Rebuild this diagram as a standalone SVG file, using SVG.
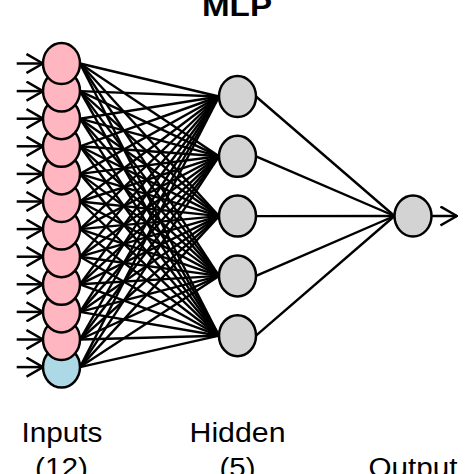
<svg xmlns="http://www.w3.org/2000/svg" width="474" height="474" viewBox="0 0 474 474">
<style>
.c{stroke:#000;stroke-width:2.4;fill:none}
.a{stroke:#000;stroke-width:2.5;fill:none}
.in{fill:#FFB6C1;stroke:#000;stroke-width:2.5}
.bias{fill:#ADD8E6;stroke:#000;stroke-width:2.5}
.hid{fill:#D3D3D3;stroke:#000;stroke-width:2.5}
.lbl{font-family:"Liberation Sans",Arial,sans-serif;font-size:27px;fill:#000;text-anchor:middle}
.ttl{font-family:"Liberation Sans",Arial,sans-serif;font-size:30px;font-weight:bold;fill:#000;text-anchor:middle}
</style>
<defs>
<marker id="arr" markerUnits="userSpaceOnUse" viewBox="0 0 18 21" refX="17" refY="10.5" markerWidth="18" markerHeight="21" orient="auto">
<path d="M0.5,1 L17,10.5 L0.5,20" fill="none" stroke="#000" stroke-width="2.5"/>
</marker>
</defs>
<text class="ttl" x="237" y="16" textLength="70" lengthAdjust="spacingAndGlyphs">MLP</text>
<g id="connectors">
<g id="input-arrows">
<line class="a" x1="16.7" y1="63.5" x2="43" y2="63.5" marker-end="url(#arr)"/>
<line class="a" x1="16.7" y1="91.1" x2="43" y2="91.1" marker-end="url(#arr)"/>
<line class="a" x1="16.7" y1="118.7" x2="43" y2="118.7" marker-end="url(#arr)"/>
<line class="a" x1="16.7" y1="146.3" x2="43" y2="146.3" marker-end="url(#arr)"/>
<line class="a" x1="16.7" y1="173.9" x2="43" y2="173.9" marker-end="url(#arr)"/>
<line class="a" x1="16.7" y1="201.5" x2="43" y2="201.5" marker-end="url(#arr)"/>
<line class="a" x1="16.7" y1="229.1" x2="43" y2="229.1" marker-end="url(#arr)"/>
<line class="a" x1="16.7" y1="256.7" x2="43" y2="256.7" marker-end="url(#arr)"/>
<line class="a" x1="16.7" y1="284.3" x2="43" y2="284.3" marker-end="url(#arr)"/>
<line class="a" x1="16.7" y1="311.9" x2="43" y2="311.9" marker-end="url(#arr)"/>
<line class="a" x1="16.7" y1="339.5" x2="43" y2="339.5" marker-end="url(#arr)"/>
<line class="a" x1="16.7" y1="367.1" x2="43" y2="367.1" marker-end="url(#arr)"/>
</g>
<g id="input-hidden">
<line class="c" x1="80" y1="63.5" x2="219" y2="96.5"/><line class="c" x1="80" y1="63.5" x2="219" y2="156.3"/><line class="c" x1="80" y1="63.5" x2="219" y2="216.1"/><line class="c" x1="80" y1="63.5" x2="219" y2="275.9"/><line class="c" x1="80" y1="63.5" x2="219" y2="335.7"/>
<line class="c" x1="80" y1="91.1" x2="219" y2="96.5"/><line class="c" x1="80" y1="91.1" x2="219" y2="156.3"/><line class="c" x1="80" y1="91.1" x2="219" y2="216.1"/><line class="c" x1="80" y1="91.1" x2="219" y2="275.9"/><line class="c" x1="80" y1="91.1" x2="219" y2="335.7"/>
<line class="c" x1="80" y1="118.7" x2="219" y2="96.5"/><line class="c" x1="80" y1="118.7" x2="219" y2="156.3"/><line class="c" x1="80" y1="118.7" x2="219" y2="216.1"/><line class="c" x1="80" y1="118.7" x2="219" y2="275.9"/><line class="c" x1="80" y1="118.7" x2="219" y2="335.7"/>
<line class="c" x1="80" y1="146.3" x2="219" y2="96.5"/><line class="c" x1="80" y1="146.3" x2="219" y2="156.3"/><line class="c" x1="80" y1="146.3" x2="219" y2="216.1"/><line class="c" x1="80" y1="146.3" x2="219" y2="275.9"/><line class="c" x1="80" y1="146.3" x2="219" y2="335.7"/>
<line class="c" x1="80" y1="173.9" x2="219" y2="96.5"/><line class="c" x1="80" y1="173.9" x2="219" y2="156.3"/><line class="c" x1="80" y1="173.9" x2="219" y2="216.1"/><line class="c" x1="80" y1="173.9" x2="219" y2="275.9"/><line class="c" x1="80" y1="173.9" x2="219" y2="335.7"/>
<line class="c" x1="80" y1="201.5" x2="219" y2="96.5"/><line class="c" x1="80" y1="201.5" x2="219" y2="156.3"/><line class="c" x1="80" y1="201.5" x2="219" y2="216.1"/><line class="c" x1="80" y1="201.5" x2="219" y2="275.9"/><line class="c" x1="80" y1="201.5" x2="219" y2="335.7"/>
<line class="c" x1="80" y1="229.1" x2="219" y2="96.5"/><line class="c" x1="80" y1="229.1" x2="219" y2="156.3"/><line class="c" x1="80" y1="229.1" x2="219" y2="216.1"/><line class="c" x1="80" y1="229.1" x2="219" y2="275.9"/><line class="c" x1="80" y1="229.1" x2="219" y2="335.7"/>
<line class="c" x1="80" y1="256.7" x2="219" y2="96.5"/><line class="c" x1="80" y1="256.7" x2="219" y2="156.3"/><line class="c" x1="80" y1="256.7" x2="219" y2="216.1"/><line class="c" x1="80" y1="256.7" x2="219" y2="275.9"/><line class="c" x1="80" y1="256.7" x2="219" y2="335.7"/>
<line class="c" x1="80" y1="284.3" x2="219" y2="96.5"/><line class="c" x1="80" y1="284.3" x2="219" y2="156.3"/><line class="c" x1="80" y1="284.3" x2="219" y2="216.1"/><line class="c" x1="80" y1="284.3" x2="219" y2="275.9"/><line class="c" x1="80" y1="284.3" x2="219" y2="335.7"/>
<line class="c" x1="80" y1="311.9" x2="219" y2="96.5"/><line class="c" x1="80" y1="311.9" x2="219" y2="156.3"/><line class="c" x1="80" y1="311.9" x2="219" y2="216.1"/><line class="c" x1="80" y1="311.9" x2="219" y2="275.9"/><line class="c" x1="80" y1="311.9" x2="219" y2="335.7"/>
<line class="c" x1="80" y1="339.5" x2="219" y2="96.5"/><line class="c" x1="80" y1="339.5" x2="219" y2="156.3"/><line class="c" x1="80" y1="339.5" x2="219" y2="216.1"/><line class="c" x1="80" y1="339.5" x2="219" y2="275.9"/><line class="c" x1="80" y1="339.5" x2="219" y2="335.7"/>
<line class="c" x1="80" y1="367.1" x2="219" y2="96.5"/><line class="c" x1="80" y1="367.1" x2="219" y2="156.3"/><line class="c" x1="80" y1="367.1" x2="219" y2="216.1"/><line class="c" x1="80" y1="367.1" x2="219" y2="275.9"/><line class="c" x1="80" y1="367.1" x2="219" y2="335.7"/>
</g>
<g id="hidden-output">
<line class="c" x1="256" y1="96.5" x2="394.5" y2="216"/>
<line class="c" x1="256" y1="156.3" x2="394.5" y2="216"/>
<line class="c" x1="256" y1="216.1" x2="394.5" y2="216"/>
<line class="c" x1="256" y1="275.9" x2="394.5" y2="216"/>
<line class="c" x1="256" y1="335.7" x2="394.5" y2="216"/>
</g>
<line id="output-arrow" class="a" x1="431.5" y1="216" x2="457" y2="216" marker-end="url(#arr)"/>
</g>
<g id="inputs">
<g id="bias"><ellipse class="bias" cx="61.5" cy="367.1" rx="18.5" ry="20.5"/></g>
<g id="in11"><ellipse class="in" cx="61.5" cy="339.5" rx="18.5" ry="20.5"/></g>
<g id="in10"><ellipse class="in" cx="61.5" cy="311.9" rx="18.5" ry="20.5"/></g>
<g id="in9"><ellipse class="in" cx="61.5" cy="284.3" rx="18.5" ry="20.5"/></g>
<g id="in8"><ellipse class="in" cx="61.5" cy="256.7" rx="18.5" ry="20.5"/></g>
<g id="in7"><ellipse class="in" cx="61.5" cy="229.1" rx="18.5" ry="20.5"/></g>
<g id="in6"><ellipse class="in" cx="61.5" cy="201.5" rx="18.5" ry="20.5"/></g>
<g id="in5"><ellipse class="in" cx="61.5" cy="173.9" rx="18.5" ry="20.5"/></g>
<g id="in4"><ellipse class="in" cx="61.5" cy="146.3" rx="18.5" ry="20.5"/></g>
<g id="in3"><ellipse class="in" cx="61.5" cy="118.7" rx="18.5" ry="20.5"/></g>
<g id="in2"><ellipse class="in" cx="61.5" cy="91.1" rx="18.5" ry="20.5"/></g>
<g id="in1"><ellipse class="in" cx="61.5" cy="63.5" rx="18.5" ry="20.5"/></g>
</g>
<g id="hidden">
<g id="h1"><ellipse class="hid" cx="237.5" cy="96.5" rx="18.5" ry="20.5"/></g>
<g id="h2"><ellipse class="hid" cx="237.5" cy="156.3" rx="18.5" ry="20.5"/></g>
<g id="h3"><ellipse class="hid" cx="237.5" cy="216.1" rx="18.5" ry="20.5"/></g>
<g id="h4"><ellipse class="hid" cx="237.5" cy="275.9" rx="18.5" ry="20.5"/></g>
<g id="h5"><ellipse class="hid" cx="237.5" cy="335.7" rx="18.5" ry="20.5"/></g>
</g>
<g id="output"><ellipse class="hid" cx="413" cy="216" rx="18.5" ry="20.5"/></g>
<g id="labels">
<text class="lbl" x="62" y="441.5" textLength="81" lengthAdjust="spacingAndGlyphs">Inputs</text>
<text class="lbl" x="61.5" y="477" textLength="53" lengthAdjust="spacingAndGlyphs">(12)</text>
<text class="lbl" x="237.5" y="441.5" textLength="96" lengthAdjust="spacingAndGlyphs">Hidden</text>
<text class="lbl" x="237.5" y="477" textLength="36" lengthAdjust="spacingAndGlyphs">(5)</text>
<text class="lbl" x="413" y="477" textLength="89" lengthAdjust="spacingAndGlyphs">Output</text>
</g>
</svg>
